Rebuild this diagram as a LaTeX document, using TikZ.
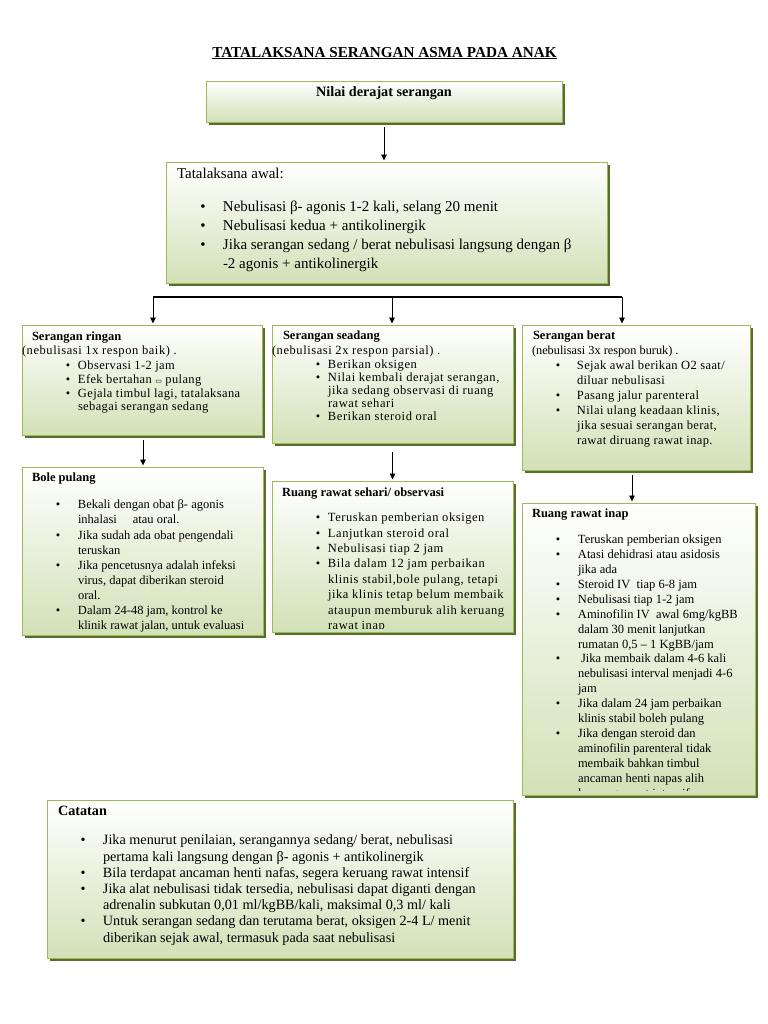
\documentclass[tikz,border=0pt]{standalone}
\usepackage{fontspec}
\setmainfont{Liberation Serif}
\newfontfamily\symfont{DejaVu Sans}
\newfontfamily\lsthree[LetterSpace=3]{Liberation Serif}
\newfontfamily\lsfour[LetterSpace=4.5]{Liberation Serif}
\usetikzlibrary{shadows,arrows.meta}
\definecolor{panelborder}{RGB}{155,187,89}
\definecolor{panelshadow}{RGB}{88,108,46}
\definecolor{panelbottom}{RGB}{210,225,183}
\newcommand\fsz[2]{\fontsize{#1bp}{#2bp}\selectfont}
\newcommand\bul[1]{\llap{\makebox[0pt]{\textbullet}\hspace{#1bp}}}
\newcommand\topstrut{\rule{0pt}{0.7em}}
\tikzset{
  panel/.style={draw=panelborder, line width=0.9bp, top color=white, bottom color=panelbottom,
    drop shadow={shadow xshift=2.5bp, shadow yshift=-2.5bp, fill=panelshadow, opacity=1},
    anchor=north west, inner sep=0pt, outer sep=0pt},
  txt/.style={anchor=north west, inner sep=0pt, outer sep=0pt, align=left},
  arr/.style={-{Triangle[length=6bp,width=5.5bp]}, line width=0.9bp, black, shorten >=1.5bp},
  conn/.style={line width=1.1bp, black},
}
\begin{document}
\begin{tikzpicture}[x=1bp,y=-1bp]
\useasboundingbox[fill=white] (0,0) rectangle (768,1024);

% title
\node[font=\fsz{15.2}{18}\bfseries, anchor=base] (title) at (384.5,57) {\underline{TATALAKSANA SERANGAN ASMA PADA ANAK}};

% panels
\node[panel, minimum width=356bp, minimum height=41bp] (nilai) at (206,81) {};
\node[panel, minimum width=441bp, minimum height=121bp] (tata) at (166,162) {};
\node[panel, minimum width=240bp, minimum height=110bp] (ringan) at (22,325) {};
\node[panel, minimum width=241bp, minimum height=118bp] (sedang) at (272,325) {};
\node[panel, minimum width=228bp, minimum height=145bp] (berat) at (522,325) {};
\node[panel, minimum width=241bp, minimum height=168bp] (bole) at (22,467) {};
\node[panel, minimum width=241bp, minimum height=151bp] (sehari) at (272,481) {};
\node[panel, minimum width=233bp, minimum height=292bp] (inap) at (522,503) {};
\node[panel, minimum width=466bp, minimum height=158bp] (catatan) at (47,800) {};

% connectors
\draw[arr, shorten <=5bp] (nilai.south) -- (nilai.south |- tata.north);
\coordinate (bl) at (153,297);
\coordinate (bm) at (392,297);
\coordinate (br) at (622,297);
\draw[conn] (bl) -- (br);
\draw[arr] (bl) -- (bl |- ringan.north);
\draw[arr] (bm) -- (bm |- sedang.north);
\draw[arr] (br) -- (br |- berat.north);
\draw[arr, shorten <=5bp] ([xshift=1bp]ringan.south) -- ([xshift=1bp]ringan.south |- bole.north);
\draw[arr, shorten <=9bp] (sedang.south) -- (sedang.south |- sehari.north);
\draw[arr, shorten <=5bp] ([xshift=-4bp]berat.south) -- ([xshift=-4bp]berat.south |- inap.north);

% texts
\node[font=\fsz{14.2}{16}\bfseries, anchor=base] (nilait) at (384,96) {Nilai derajat serangan};

\node[txt, font=\fsz{15}{19}] (tatah) at (177,168) {\topstrut Tatalaksana awal:};
\node[txt, font=\fsz{15}{19}] (tatai) at (223,201) {\topstrut\bul{20}Nebulisasi β- agonis 1-2 kali, selang 20 menit\\
\bul{20}Nebulisasi kedua + antikolinergik\\
\bul{20}Jika serangan sedang / berat nebulisasi langsung dengan β\\
-2 agonis + antikolinergik};

\node[txt, font=\fsz{12.5}{14}\bfseries] (ringanh) at (32,332) {\topstrut Serangan ringan};
\node[txt, font=\lsfour\fsz{12.5}{14}] (ringann) at (22,346) {\topstrut(nebulisasi 1x respon baik) .};
\node[txt, font=\lsthree\fsz{12.5}{13.7}] (ringani) at (78,361) {\topstrut\bul{10}Observasi 1-2 jam\\
\bul{10}Efek bertahan {\symfont\scriptsize ▭} pulang\\
\bul{10}Gejala timbul lagi, tatalaksana\\
sebagai serangan sedang};

\node[txt, font=\fsz{12.5}{14}\bfseries] (sedangh) at (283,331) {\topstrut Serangan seadang};
\node[txt, font=\lsfour\fsz{12.5}{14}] (sedangn) at (272,346) {\topstrut(nebulisasi 2x respon parsial) .};
\node[txt, font=\lsfour\fsz{12.5}{13}] (sedangi) at (328,360) {\topstrut\bul{10}Berikan oksigen\\
\bul{10}Nilai kembali derajat serangan,\\
jika sedang observasi di ruang\\
rawat sehari\\
\bul{10}Berikan steroid oral};

\node[txt, font=\fsz{12.5}{14}\bfseries] (berath) at (533,331) {\topstrut Serangan berat};
\node[txt, font=\fsz{12.3}{14}] (beratn) at (532,346) {\topstrut(nebulisasi 3x respon buruk) .};
\node[txt, font=\lsthree\fsz{12.5}{15}] (berati) at (577,361) {\topstrut\bul{19}Sejak awal berikan O2 saat/\\
diluar nebulisasi\\
\bul{19}Pasang jalur parenteral\\
\bul{19}Nilai ulang keadaan klinis,\\
jika sesuai serangan berat,\\
rawat diruang rawat inap.};

\begin{scope}
\clip (bole.north west) rectangle ([yshift=4bp]bole.south east);
\node[txt, font=\fsz{12.5}{14}\bfseries] (boleh) at (32,473) {\topstrut Bole pulang};
\node[txt, font=\fsz{12.5}{15.1}] (bolei) at (78,500) {\topstrut\bul{20}Bekali dengan obat β- agonis\\
inhalasi\hspace{16bp}atau oral.\\
\bul{20}Jika sudah ada obat pengendali\\
teruskan\\
\bul{20}Jika pencetusnya adalah infeksi\\
virus, dapat diberikan steroid\\
oral.\\
\bul{20}Dalam 24-48 jam, kontrol ke\\
klinik rawat jalan, untuk evaluasi};
\end{scope}

\begin{scope}
\clip (sehari.north west) rectangle ([yshift=4bp]sehari.south east);
\node[txt, font=\fsz{12.5}{14}\bfseries] (seharih) at (282,488) {\topstrut Ruang rawat sehari/ observasi};
\node[txt, font=\lsfour\fsz{12.5}{15.4}] (seharii) at (328,513) {\topstrut\bul{10}Teruskan pemberian oksigen\\
\bul{10}Lanjutkan steroid oral\\
\bul{10}Nebulisasi tiap 2 jam\\
\bul{10}Bila dalam 12 jam perbaikan\\
klinis stabil,bole pulang, tetapi\\
jika klinis tetap belum membaik\\
ataupun memburuk alih keruang\\
rawat inap};
\end{scope}

\begin{scope}
\clip (inap.north west) rectangle ([yshift=5bp]inap.south east);
\node[txt, font=\fsz{12.5}{14}\bfseries] (inaph) at (532,509) {\topstrut Ruang rawat inap};
\node[txt, font=\fsz{12.5}{14.9}] (inapi) at (578,535) {\topstrut\bul{20}Teruskan pemberian oksigen\\
\bul{20}Atasi dehidrasi atau asidosis\\
jika ada\\
\bul{20}Steroid IV\ \ tiap 6-8 jam\\
\bul{20}Nebulisasi tiap 1-2 jam\\
\bul{20}Aminofilin IV\ \ awal 6mg/kgBB\\
dalam 30 menit lanjutkan\\
rumatan 0,5 – 1 KgBB/jam\\
\bul{20}\ Jika membaik dalam 4-6 kali\\
nebulisasi interval menjadi 4-6\\
jam\\
\bul{20}Jika dalam 24 jam perbaikan\\
klinis stabil boleh pulang\\
\bul{20}Jika dengan steroid dan\\
aminofilin parenteral tidak\\
membaik bahkan timbul\\
ancaman henti napas alih\\
keruang rawat intensif};
\end{scope}

\node[txt, font=\fsz{14.2}{16}\bfseries] (catatanh) at (58,806) {\topstrut Catatan};
\node[txt, font=\fsz{14.2}{16.2}] (catatani) at (103,835) {\topstrut\bul{20}Jika menurut penilaian, serangannya sedang/ berat, nebulisasi\\
pertama kali langsung dengan β- agonis + antikolinergik\\
\bul{20}Bila terdapat ancaman henti nafas, segera keruang rawat intensif\\
\bul{20}Jika alat nebulisasi tidak tersedia, nebulisasi dapat diganti dengan\\
adrenalin subkutan 0,01 ml/kgBB/kali, maksimal 0,3 ml/ kali\\
\bul{20}Untuk serangan sedang dan terutama berat, oksigen 2-4 L/ menit\\
diberikan sejak awal, termasuk pada saat nebulisasi};
\end{tikzpicture}
\end{document}
